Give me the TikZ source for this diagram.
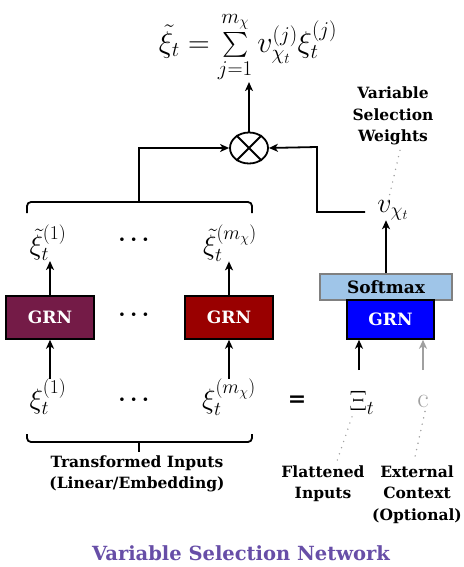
\RequirePackage{fix-cm}
\documentclass[tikz,border=0pt]{standalone}
\usepackage{amsmath}
\usepackage{fontspec}
\newfontfamily\lab{DejaVu Serif}
\usetikzlibrary{arrows.meta,shapes.geometric,calc}
\definecolor{grnA}{HTML}{741B47}
\definecolor{grnB}{HTML}{990000}
\definecolor{grnC}{HTML}{0000FF}
\definecolor{smax}{HTML}{9FC5E8}
\definecolor{ttl}{HTML}{674EA7}
\definecolor{ltgray}{HTML}{A0A0A0}
\begin{document}
\begin{tikzpicture}[x=1pt,y=-1pt,
  wire/.style={line width=1.8pt},
  arr/.style={line width=1.8pt,-{Stealth[length=9pt,width=8pt,inset=2.5pt]}},
  grnbox/.style={draw=black,line width=1.5pt,minimum width=88pt,minimum height=43pt,inner sep=0pt,text=white,font=\lab\bfseries\fontsize{17}{20}\selectfont},
  lbl/.style={font=\lab\bfseries\fontsize{15.5}{21.5}\selectfont,align=center,inner sep=0pt},
  mth/.style={font=\fontsize{28}{30}\selectfont,inner sep=0pt},
  dotsym/.style={font=\fontsize{23}{30}\selectfont\boldmath,inner sep=0pt},
  leader/.style={ltgray,line width=1.6pt,line cap=round,dash pattern=on 0pt off 6.5pt}]
\path[use as bounding box] (0,0) rectangle (463,567);

% formula and product
\node[font=\fontsize{30}{32}\selectfont,inner sep=0pt] (f) at (248,47) {$\tilde\xi_t=\sum\limits_{j=1}^{m_\chi} v_{\chi_t}^{(j)}\xi_t^{(j)}$};
\node[draw,ellipse,line width=1.8pt,minimum width=38pt,minimum height=31pt,inner sep=0pt] (ot) at (249,148) {};
\draw[wire] (ot.45) -- (ot.225) (ot.135) -- (ot.315);
\draw[arr] (ot.north) -- (ot.north |- f.south);

% left column
\node[mth] (tx1) at (48,243) {$\tilde\xi_t^{(1)}$};
\node[mth] (txm) at (230,243) {$\tilde\xi_t^{(m_\chi)}$};
\node[dotsym] (d1) at (136,240) {$\cdots$};
\node[grnbox,fill=grnA] (g1) at (50,317.5) {GRN};
\node[grnbox,fill=grnB] (gm) at (229,317.5) {GRN};
\node[dotsym] (d2) at (136,315) {$\cdots$};
\node[mth] (x1) at (48,397) {$\xi_t^{(1)}$};
\node[mth] (xm) at (229,397) {$\xi_t^{(m_\chi)}$};
\node[dotsym] (d3) at (136,400) {$\cdots$};

\draw[arr] (g1.north) -- (g1.north |- tx1.south);
\draw[arr] (gm.north) -- (gm.north |- txm.south);
\draw[arr] (g1.south |- x1.north) -- (g1.south);
\draw[arr] (gm.south |- xm.north) -- (gm.south);

% braces
\draw[wire,rounded corners=4pt] (27,213) -- (27,202) -- (252,202) -- (252,213);
\coordinate (bt) at (139,202);
\draw[arr] (bt) |- (ot.west);
\draw[wire,rounded corners=4pt] (27,434) -- (27,442) -- (252,442) -- (252,434);
\draw[wire] (139,442) -- (139,452);

% right column
\node[draw=gray,line width=1.5pt,fill=smax,minimum width=132pt,minimum height=26pt,inner sep=0pt,font=\lab\bfseries\fontsize{17}{20}\selectfont] (sm) at (386,287) {Softmax};
\node[grnbox,fill=grnC,minimum width=87pt,minimum height=39pt] (gc) at (390.5,319.5) {GRN};
\node[mth] (v) at (393,210) {$v_{\chi_t}$};
\draw[arr] (sm.north) -- (sm.north |- v.south);
\coordinate (vin) at (365,212);
\coordinate (rc) at (317,147);
\draw[arr] (vin) -| (rc) -- (ot.east);

\node[lbl] (vsw) at (393,116) {Variable\\Selection\\Weights};
\draw[leader] ($(vsw.south)+(7,5)$) -- ($(v.north)+(-5,2)$);

\node[font=\lab\bfseries\fontsize{22}{22}\selectfont,inner sep=0pt] (eq) at (297,401) {=};
\node[mth] (Xi) at (362,403) {$\Xi_t$};
\node[mth,text=ltgray] (c) at (423,401) {$\mathrm{c}$};
\coordinate (ta) at (359,370);
\coordinate (tb) at (423,370);
\draw[arr] (ta) -- (ta |- gc.south);
\draw[arr,ltgray] (tb) -- (tb |- gc.south);

\node[lbl] (ti) at (137,474) {Transformed Inputs\\(Linear/Embedding)};
\node[lbl] (fi) at (323,483.5) {Flattened\\Inputs};
\node[lbl] (ec) at (417,494.5) {External\\Context\\(Optional)};
\draw[leader] ($(Xi.south)+(-10,2)$) -- ($(fi.north)+(14,-4)$);
\draw[leader] ($(c.south)+(2,4)$) -- ($(ec.north)+(-3,-4)$);

\node[font=\lab\bfseries\fontsize{19.5}{22}\selectfont,text=ttl,inner sep=0pt] (title) at (241,553) {Variable Selection Network};
\end{tikzpicture}
\end{document}
